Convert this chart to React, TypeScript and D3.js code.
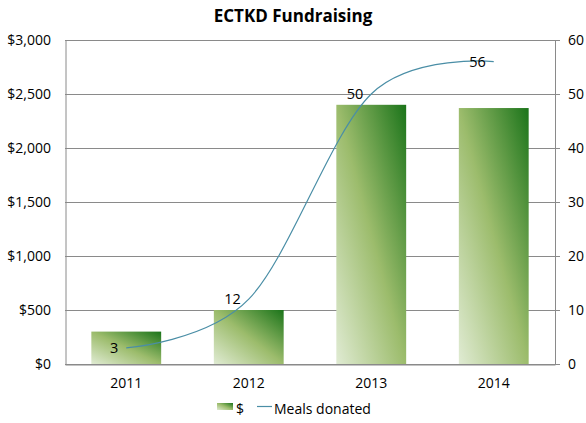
import { useEffect, useRef } from "react";
import * as d3 from "d3";

const years = ["2011", "2012", "2013", "2014"];
const dollars = [300, 500, 2400, 2370];
const meals = [3, 12, 50, 56];
const dollarTicks = [0, 500, 1000, 1500, 2000, 2500, 3000];
const mealTicks = [0, 10, 20, 30, 40, 50, 60];

const FONT = "'Open Sans', sans-serif";

function renderChart(svgEl: SVGSVGElement) {
  const svg = d3.select(svgEl);
  svg.selectAll("*").remove();

  const width = 586;
  const height = 423;
  const margin = { top: 40, right: 31, bottom: 59, left: 65 };
  const chartWidth = width - margin.left - margin.right;
  const chartHeight = height - margin.top - margin.bottom;

  svg.attr("width", width).attr("height", height);

  // bar gradient, light at bottom-left, dark green at top-right
  const defs = svg.append("defs");
  const grad = defs
    .append("linearGradient")
    .attr("id", "barGrad")
    .attr("x1", 0)
    .attr("y1", 1)
    .attr("x2", 1)
    .attr("y2", 0);
  grad.append("stop").attr("offset", "0%").attr("stop-color", "#e0ebd3");
  grad.append("stop").attr("offset", "50%").attr("stop-color", "#9cbc6c");
  grad.append("stop").attr("offset", "100%").attr("stop-color", "#1b741a");

  svg
    .append("text")
    .attr("x", 293)
    .attr("y", 22)
    .attr("text-anchor", "middle")
    .style("font-family", FONT)
    .style("font-size", "17px")
    .style("font-weight", "bold")
    .attr("fill", "#000")
    .text("ECTKD Fundraising");

  const g = svg
    .append("g")
    .attr("transform", `translate(${margin.left},${margin.top})`);

  const x = d3
    .scaleBand<string>()
    .domain(years)
    .range([0, chartWidth])
    .paddingInner(0.43)
    .paddingOuter(0.215);

  const yLeft = d3.scaleLinear().domain([0, 3000]).range([chartHeight, 0]);
  const yRight = d3.scaleLinear().domain([0, 60]).range([chartHeight, 0]);

  // gridlines
  g.append("g")
    .selectAll("line")
    .data(dollarTicks)
    .join("line")
    .attr("x1", 0)
    .attr("x2", chartWidth)
    .attr("y1", (d) => yLeft(d) + 0.5)
    .attr("y2", (d) => yLeft(d) + 0.5)
    .attr("stroke", "#8a8a8a")
    .attr("stroke-width", 1);

  // bars
  g.append("g")
    .selectAll("rect")
    .data(dollars)
    .join("rect")
    .attr("x", (_, i) => x(years[i])!)
    .attr("y", (d) => yLeft(d))
    .attr("width", x.bandwidth())
    .attr("height", (d) => chartHeight - yLeft(d))
    .attr("fill", "url(#barGrad)");

  // left axis
  const leftAxis = g
    .append("g")
    .call(
      d3
        .axisLeft(yLeft)
        .tickValues(dollarTicks)
        .tickSize(0)
        .tickPadding(14)
        .tickFormat((d) => d3.format("$,")(d as number))
    );
  leftAxis.select(".domain").attr("stroke", "#8a8a8a").attr("transform", "translate(0.5,0)");
  leftAxis
    .selectAll("text")
    .style("font-family", FONT)
    .style("font-size", "14px")
    .attr("fill", "#000");

  // right axis
  const rightAxis = g
    .append("g")
    .attr("transform", `translate(${chartWidth},0)`)
    .call(
      d3
        .axisRight(yRight)
        .tickValues(mealTicks)
        .tickSize(5)
        .tickSizeOuter(0)
        .tickPadding(8)
    );
  rightAxis.selectAll(".domain, line").attr("stroke", "#8a8a8a");
  rightAxis
    .selectAll("text")
    .style("font-family", FONT)
    .style("font-size", "14px")
    .attr("fill", "#000");

  // bottom axis
  const bottomAxis = g
    .append("g")
    .attr("transform", `translate(0,${chartHeight})`)
    .call(d3.axisBottom(x).tickSize(0).tickPadding(14));
  bottomAxis.select(".domain").attr("stroke", "#8a8a8a").attr("transform", "translate(0,0.5)");
  bottomAxis
    .selectAll("text")
    .style("font-family", FONT)
    .style("font-size", "14px")
    .attr("fill", "#000");

  // meals line
  const cx = (i: number) => x(years[i])! + x.bandwidth() / 2;
  const line = d3
    .line<number>()
    .x((_, i) => cx(i))
    .y((d) => yRight(d))
    .curve(d3.curveCardinal.tension(0));

  g.append("path")
    .datum(meals)
    .attr("fill", "none")
    .attr("stroke", "#4a8ea6")
    .attr("stroke-width", 1.2)
    .attr("d", line);

  g.append("g")
    .selectAll("text")
    .data(meals)
    .join("text")
    .attr("x", (_, i) => cx(i) - 8)
    .attr("y", (d) => yRight(d) + 5)
    .attr("text-anchor", "end")
    .style("font-family", FONT)
    .style("font-size", "14.5px")
    .attr("fill", "#000")
    .text((d) => d);

  // legend
  const legend = svg.append("g").attr("transform", "translate(217,0)");
  legend
    .append("rect")
    .attr("x", 0)
    .attr("y", 403)
    .attr("width", 16)
    .attr("height", 7)
    .attr("fill", "url(#barGrad)");
  legend
    .append("text")
    .attr("x", 19)
    .attr("y", 414)
    .style("font-family", FONT)
    .style("font-size", "14px")
    .attr("fill", "#000")
    .text("$");
  legend
    .append("line")
    .attr("x1", 40)
    .attr("x2", 55)
    .attr("y1", 406.5)
    .attr("y2", 406.5)
    .attr("stroke", "#4a8ea6")
    .attr("stroke-width", 1.2);
  legend
    .append("text")
    .attr("x", 57)
    .attr("y", 414)
    .style("font-family", FONT)
    .style("font-size", "14px")
    .attr("fill", "#000")
    .text("Meals donated");
}

export default function App() {
  const svgRef = useRef<SVGSVGElement>(null);

  useEffect(() => {
    if (svgRef.current) renderChart(svgRef.current);
  }, []);

  return (
    <div style={{ position: "absolute", left: 0, top: 0, background: "#fff" }}>
      <svg ref={svgRef} width={586} height={423} style={{ display: "block" }} />
    </div>
  );
}
